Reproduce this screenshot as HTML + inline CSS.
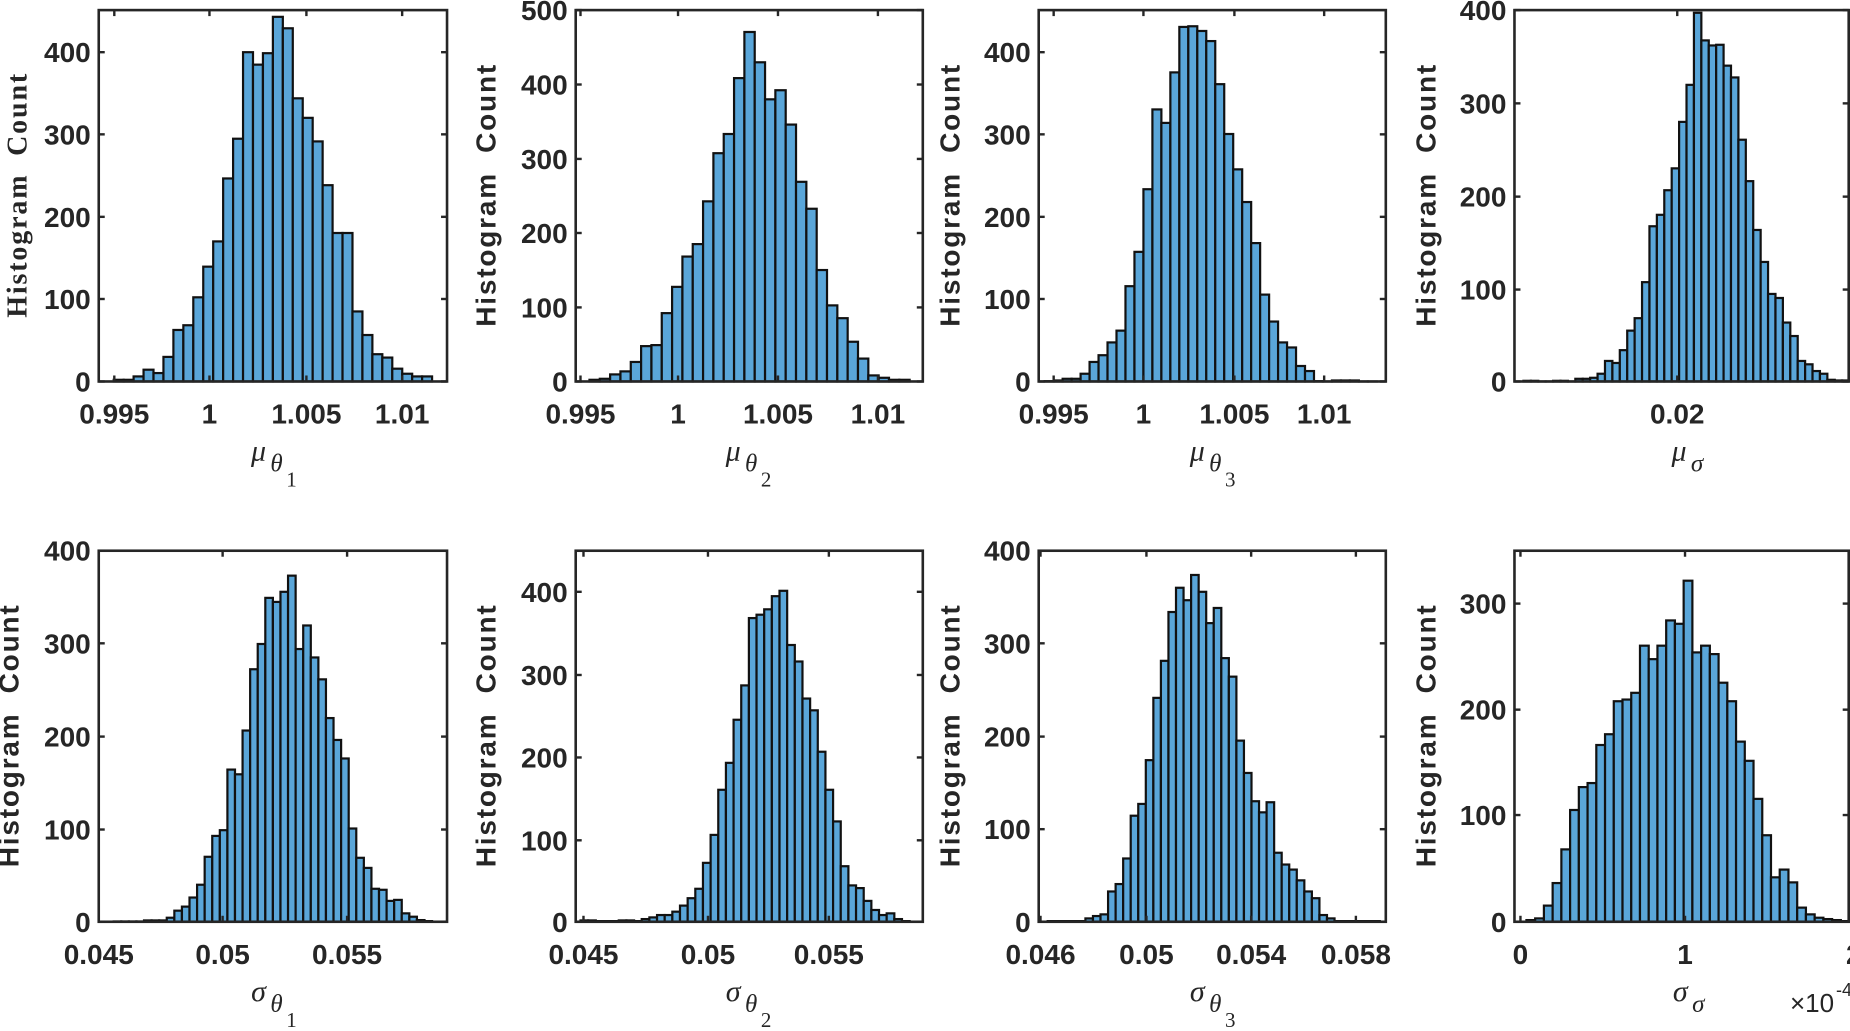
<!DOCTYPE html>
<html><head><meta charset="utf-8"><style>
html,body{margin:0;padding:0;background:#fff;width:1850px;height:1031px;overflow:hidden}
svg text{font-family:"Liberation Sans",sans-serif}
</style></head><body>
<svg id="s" width="1850" height="1031" xmlns="http://www.w3.org/2000/svg"></svg>
<script>
const S=document.getElementById('s');const NS='http://www.w3.org/2000/svg';
function el(t,a,txt){const e=document.createElementNS(NS,t);for(const k in a)e.setAttribute(k,a[k]);if(txt!==undefined)e.textContent=txt;S.appendChild(e);return e;}
const KX=1.671,KY=2.97;
function P(o){
 const X=z=>o.ox+z/KX, Y=z=>o.oy+z/KY;
 const x1=X(o.box[0]),x2=Math.min(X(o.box[1]),1848.7),y1=Y(o.box[2]),y2=Y(o.box[3]);
 const n=o.tops.length,w=(o.be-o.bs)/n;
 for(let i=0;i<n;i++){const bx=X(o.bs+i*w),bw=w/KX,ty=Y(o.tops[i]);
  el('rect',{x:bx,y:ty,width:bw,height:Math.max(y2-ty,0.01),fill:'#5aa6d9',stroke:'#111','stroke-width':2.2});}
 el('rect',{x:x1,y:y1,width:x2-x1,height:y2-y1,fill:'none',stroke:'#262626','stroke-width':2.6});
 for(const [v,zy] of o.yt){const y=Y(zy);
  el('line',{x1:x1,y1:y,x2:x1+6,y2:y,stroke:'#262626','stroke-width':2.4});
  el('line',{x1:x2,y1:y,x2:x2-6,y2:y,stroke:'#262626','stroke-width':2.4});
  el('text',{x:x1-8,y:y+10,'text-anchor':'end','font-size':28,'font-weight':'bold',fill:'#262626'},v);}
 for(const [v,zx] of o.xt){const x=X(zx);
  el('line',{x1:x,y1:y2,x2:x,y2:y2-6,stroke:'#262626','stroke-width':2.4});
  el('line',{x1:x,y1:y1,x2:x,y2:y1+6,stroke:'#262626','stroke-width':2.4});
  el('text',{x:x,y:y2+42,'text-anchor':'middle','font-size':28,'font-weight':'bold',fill:'#262626'},v);}
 const yc=(y1+y2)/2, lx=x1-o.yl;
 const t=el('text',{x:lx,y:yc,'text-anchor':'middle','font-size':o.serif?28:28,'font-weight':'bold',fill:'#262626',transform:`rotate(-90 ${lx} ${yc})`,textLength:o.serif?244:262,lengthAdjust:'spacing'},'Histogram  Count');
 t.style.whiteSpace='pre';
 if(o.serif)t.style.fontFamily='"Liberation Serif",serif';
 const cx=X(o.lx),by=y2;
 const f='font-family:"Liberation Serif",serif;font-style:italic';
 el('text',{x:cx,y:by+79,'text-anchor':'middle','font-size':30,fill:'#262626',style:f},o.g1);
 el('text',{x:cx+18,y:by+90,'text-anchor':'middle','font-size':25,fill:'#262626',style:f},o.g2);
 if(o.g3)el('text',{x:cx+33,y:by+105,'text-anchor':'middle','font-size':21,fill:'#262626',style:'font-family:"Liberation Serif",serif'},o.g3);
}
const yA=[['0',1133],['100',888],['200',644],['300',399],['400',155]];
P({ox:0,oy:0,box:[165,747,30,1133],bs:190,be:722,serif:1,yl:72,lx:432,g1:'μ',g2:'θ',g3:'1',
 tops:[1128,1128,1118,1098,1108,1060,980,966,883,792,717,530,412,155,192,158,50,84,292,350,420,550,692,692,925,995,1052,1062,1095,1110,1118,1118],
 yt:yA,xt:[['0.995',191],['1',350],['1.005',512],['1.01',672]]});
P({ox:0,oy:0,box:[962,1542,30,1133],bs:985,be:1520,yl:80,lx:1225,g1:'μ',g2:'θ',g3:'2',
 tops:[1128,1125,1112,1103,1075,1028,1025,930,852,762,725,598,455,398,232,95,185,295,268,370,540,620,802,907,945,1015,1065,1115,1122,1128,1128],
 yt:[['0',1133],['100',913],['200',692],['300',472],['400',251],['500',30]],xt:[['0.995',970],['1',1133],['1.005',1300],['1.01',1467]]});
P({ox:925,oy:0,box:[190,770,30,1133],bs:200,be:755,yl:79,lx:455,g1:'μ',g2:'θ',g3:'3',
 tops:[1132,1130,1125,1125,1110,1075,1055,1017,982,850,748,562,325,365,215,80,78,92,122,250,398,503,600,722,875,955,1017,1032,1087,1102,1132,1133,1130,1130,1130,1133,1133],
 yt:yA,xt:[['0.995',215],['1',365],['1.005',517],['1.01',667]]});
P({ox:925,oy:0,box:[985,1570,30,1133],bs:1000,be:1545,yl:79,lx:1260,g1:'μ',g2:'σ',
 tops:[1131,1131,1133,1133,1131,1131,1133,1125,1125,1122,1110,1072,1078,1040,982,945,838,672,638,565,500,362,252,38,120,135,133,195,230,415,538,683,778,873,885,958,998,1072,1082,1102,1110,1128,1130,1130],
 yt:[['0',1133],['100',860],['200',584],['300',307],['400',30]],xt:[['0.02',1257]]});
P({ox:0,oy:511,box:[165,747,118,1220],bs:190,be:722,yl:80,lx:432,g1:'σ',g2:'θ',g3:'1',
 tops:[1219,1219,1219,1219,1216,1216,1216,1208,1187,1175,1148,1110,1027,965,948,768,782,652,470,395,258,270,240,192,410,340,435,500,615,680,735,943,1030,1060,1122,1125,1158,1155,1195,1205,1215,1218],
 yt:[['0',1220],['100',946],['200',670],['300',393],['400',118]],xt:[['0.045',165],['0.05',372],['0.055',580]]});
P({ox:0,oy:511,box:[962,1542,118,1220],bs:970,be:1520,yl:80,lx:1225,g1:'σ',g2:'θ',g3:'2',
 tops:[1216,1216,1218,1218,1218,1216,1216,1218,1212,1207,1200,1200,1190,1172,1150,1122,1045,962,828,748,620,518,318,308,292,253,237,398,447,557,592,715,828,922,1055,1112,1120,1158,1185,1200,1195,1212,1218],
 yt:[['0',1220],['100',978],['200',732],['300',487],['400',240]],xt:[['0.045',975],['0.05',1183],['0.055',1385]]});
P({ox:925,oy:511,box:[190,770,118,1220],bs:205,be:760,yl:79,lx:455,g1:'σ',g2:'θ',g3:'3',
 tops:[1218,1218,1218,1218,1218,1210,1203,1198,1130,1108,1032,905,870,740,555,445,300,228,265,190,240,333,288,437,492,682,778,862,895,865,1015,1050,1065,1097,1130,1150,1200,1210,1218,1218,1218,1218,1218,1218],
 yt:[['0',1220],['100',945],['200',670],['300',393],['400',118]],xt:[['0.046',193],['0.05',370],['0.054',545],['0.058',720]]});
P({ox:925,oy:511,box:[985,1570,118,1220],bs:1005,be:1545,yl:79,lx:1262,g1:'σ',g2:'σ',
 tops:[1215,1210,1172,1105,1005,888,820,808,695,663,565,560,540,400,440,400,325,335,207,420,400,425,510,565,685,742,855,963,1088,1065,1103,1178,1198,1208,1212,1215,1218],
 yt:[['0',1220],['100',903],['200',590],['300',275]],xt:[['0',995],['1',1270],['2',1552]]});
el('text',{x:1790,y:1012,'font-size':26,fill:'#262626'},'×10');
el('text',{x:1836,y:996,'font-size':18,fill:'#262626'},'-4');
</script>
</body></html>
